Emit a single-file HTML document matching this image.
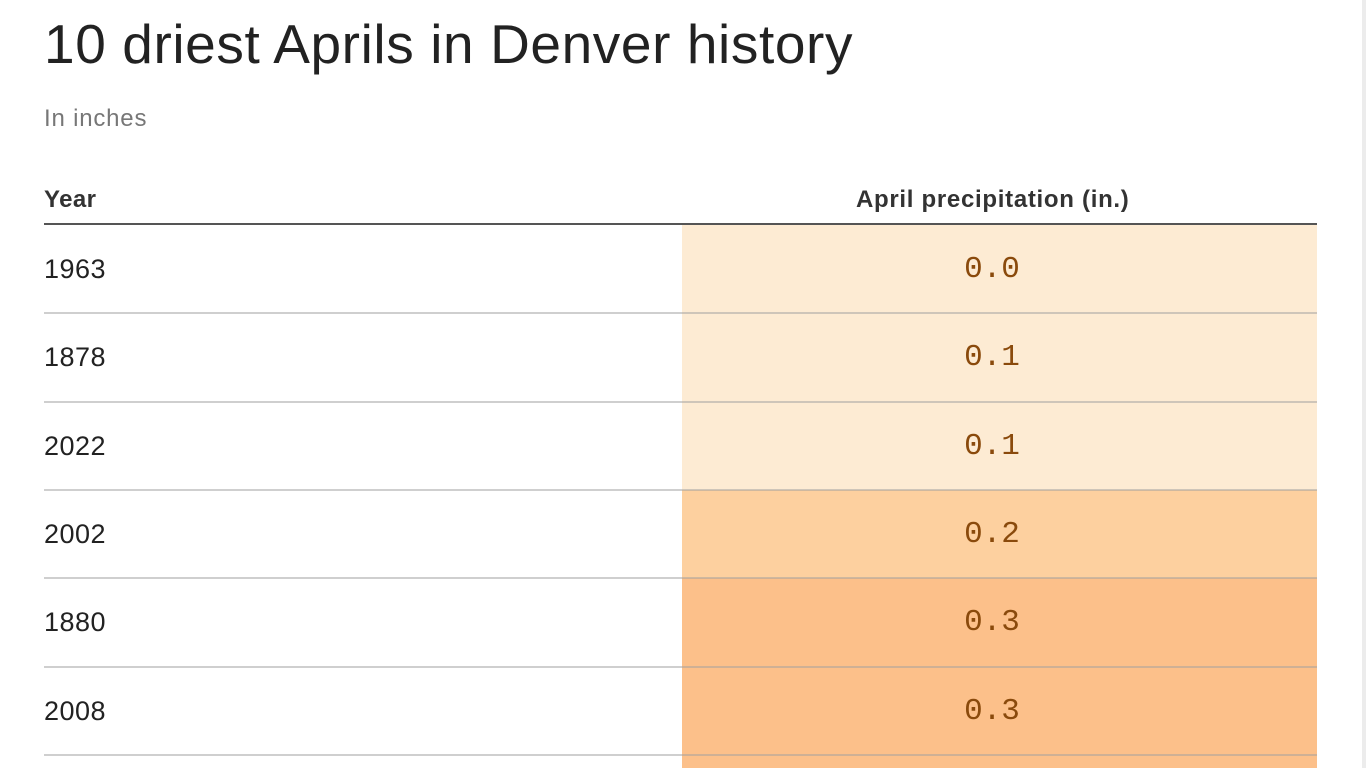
<!DOCTYPE html>
<html><head><meta charset="utf-8"><style>
html,body{margin:0;width:1366px;height:768px;overflow:hidden}
body{background:#fff;font-family:"Liberation Sans",sans-serif;position:relative}
.t{position:absolute;left:44px;top:12px;font-size:55px;color:#222;letter-spacing:0.6px;white-space:nowrap}
.s{position:absolute;left:44px;top:105px;font-size:24px;color:#777;letter-spacing:0.8px}
.h{position:absolute;top:186px;font-size:24px;font-weight:bold;color:#333;white-space:nowrap}
.hl{position:absolute;left:44px;width:1273px;top:223px;height:2px;background:#555}
.r{position:absolute;left:44px;width:1273px;height:89px;overflow:hidden}
.y{position:absolute;left:0;top:0;line-height:88px;font-size:27px;color:#222;letter-spacing:0.5px}
.v{position:absolute;left:638px;top:0;width:635px;height:89px;line-height:90px;text-align:center;font-family:"Liberation Mono",monospace;font-size:31px;color:#8a4a0c;box-sizing:border-box;padding-right:15px}
.ln{position:absolute;left:44px;width:1273px;height:1.5px;background:rgba(160,160,160,0.5)}
.sb{position:absolute;right:0;top:0;width:4px;height:768px;background:#ececec}
</style></head><body>
<div class="t">10 driest Aprils in Denver history</div>
<div class="s">In inches</div>
<div class="h" style="left:44px;letter-spacing:0.4px">Year</div>
<div class="h" style="left:856px;letter-spacing:0.7px">April precipitation (in.)</div>
<div class="r" style="top:225px"><div class="y">1963</div><div class="v" style="background:#fdebd3">0.0</div></div>
<div class="r" style="top:313px"><div class="y">1878</div><div class="v" style="background:#fdebd3">0.1</div></div>
<div class="r" style="top:402px"><div class="y">2022</div><div class="v" style="background:#fdebd3">0.1</div></div>
<div class="r" style="top:490px"><div class="y">2002</div><div class="v" style="background:#fdd09f">0.2</div></div>
<div class="r" style="top:578px"><div class="y">1880</div><div class="v" style="background:#fcc08a">0.3</div></div>
<div class="r" style="top:667px"><div class="y">2008</div><div class="v" style="background:#fcc08a">0.3</div></div>
<div class="r" style="top:756px;height:12px"><div class="v" style="background:#fcc08a;height:12px"></div></div>
<div class="ln" style="top:312px"></div>
<div class="ln" style="top:401px"></div>
<div class="ln" style="top:489px"></div>
<div class="ln" style="top:577px"></div>
<div class="ln" style="top:666px"></div>
<div class="ln" style="top:754px"></div>
<div class="hl"></div>
<div class="sb"></div>
</body></html>
